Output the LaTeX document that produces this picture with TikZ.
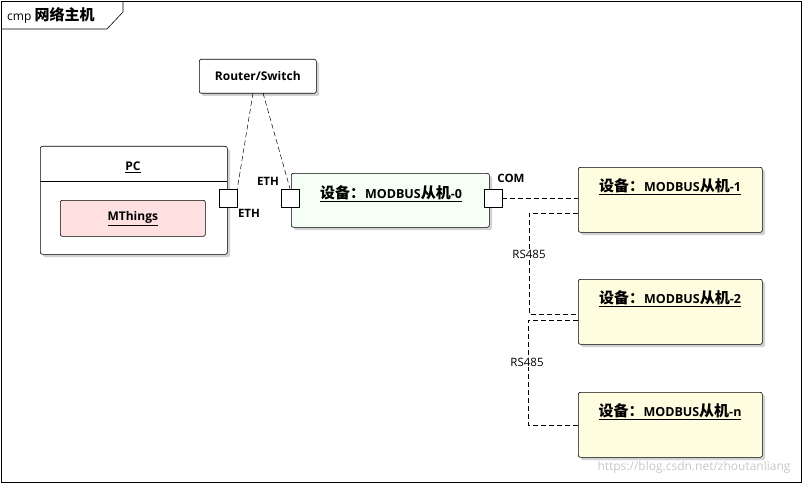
\documentclass[tikz,border=0pt]{standalone}
\usepackage{fontspec}
\setmainfont{Open Sans}
\newfontfamily\cjk{Noto Sans CJK SC}
\newcommand{\devtitle}[1]{\underline{{\cjk\bfseries\fontsize{15}{16}\selectfont 设备：}MODBUS{\cjk\bfseries\fontsize{15}{16}\selectfont 从机}-#1}}
\tikzset{
  box/.style={draw, rounded corners=2pt, line width=0.6pt, anchor=north west, inner sep=0pt},
  port/.style={draw, fill=white, line width=0.6pt, minimum size=18pt, inner sep=0pt},
  lbl/.style={font=\fontsize{11.5}{13}\selectfont, inner sep=1pt},
  blbl/.style={font=\bfseries\fontsize{11.5}{13}\selectfont, inner sep=1pt},
  ttl/.style={font=\bfseries\fontsize{12}{14}\selectfont, inner sep=0pt},
  dtl/.style={font=\bfseries\fontsize{12.5}{14}\selectfont, inner sep=0pt},
  dev/.style={box, fill=yellow!12, minimum width=184pt, minimum height=65pt},
  link/.style={line width=0.5pt, dash pattern=on 5pt off 3pt},
  shadow/.style={fill=black!18, draw=none, rounded corners=2pt}
}
\begin{document}
\begin{tikzpicture}[x=1pt,y=-1pt]
\useasboundingbox (0,0) rectangle (803,484);
% frame
\draw[line width=0.6pt] (1,1) rectangle (801,482);
\draw[line width=0.6pt] (1,29) -- (107,29) -- (123,12) -- (123,1);
\node[anchor=west, inner sep=0pt, font=\fontsize{12}{14}\selectfont] (cmp) at (7,15) {cmp {\cjk\bfseries\fontsize{15}{16}\selectfont 网络主机}};
% shadows
\foreach \a/\b/\c/\d in {199/59/316/93, 40/146/227/254, 291/173/489/227, 578/167/762/232, 578/279/762/344, 578/392/762/457}
  \fill[shadow] (\a+3,\b+3) rectangle (\c+3,\d+3);
% nodes
\node[box, fill=white, minimum width=117pt, minimum height=34pt] (router) at (199,59) {};
\node[ttl] at (router.center) {Router/Switch};
\node[box, fill=white, minimum width=187pt, minimum height=108pt] (pc) at (40,146) {};
\draw[line width=0.6pt] (40,181) -- (227,181);
\node[ttl] (pct) at (133,167) {\underline{PC}};
\node[box, fill=red!12, minimum width=145pt, minimum height=36pt] (mt) at (60,200) {};
\node[ttl] at (mt.center) {\underline{MThings}};
\node[box, fill=green!4, minimum width=198pt, minimum height=54pt] (d0) at (291,173) {};
\node[dtl] at (391,194) {\devtitle{0}};
\node[dev] (d1) at (578,167) {};
\node[dtl] at (670,187) {\devtitle{1}};
\node[dev] (d2) at (578,279) {};
\node[dtl] at (670,299) {\devtitle{2}};
\node[dev] (dn) at (578,392) {};
\node[dtl] at (670,412) {\devtitle{n}};
% ports
\node[port] (ppc) at (228,198) {};
\node[port] (pd0l) at (290,198) {};
\node[port] (pd0r) at (493,198) {};
\node[blbl] at (249,213) {ETH};
\node[blbl] at (268,181) {ETH};
\node[blbl] at (511,178) {COM};
% links
\coordinate (r1) at (253,93);
\coordinate (r2) at (263,93);
\draw[link] (r1) -- (ppc.north east);
\draw[link] (r2) -- (pd0l.north);
\draw[link] (pd0r.east) -- (d1.west |- pd0r.east);
\coordinate (a1) at (578,213);
\coordinate (a2) at (578,314);
\coordinate (b1) at (578,320);
\coordinate (b2) at (578,425);
\draw[link] (a1) -- (529,213) -- (529,314) -- (a2);
\draw[link] (b1) -- (528,320) -- (528,425) -- (b2);
\node[lbl, fill=white] at (529,254) {RS485};
\node[lbl, fill=white] at (527,362) {RS485};
\node[font=\fontsize{12}{14}\selectfont, text=black!22, anchor=east] at (794,467) {https://blog.csdn.net/zhoutanliang};
\end{tikzpicture}
\end{document}
